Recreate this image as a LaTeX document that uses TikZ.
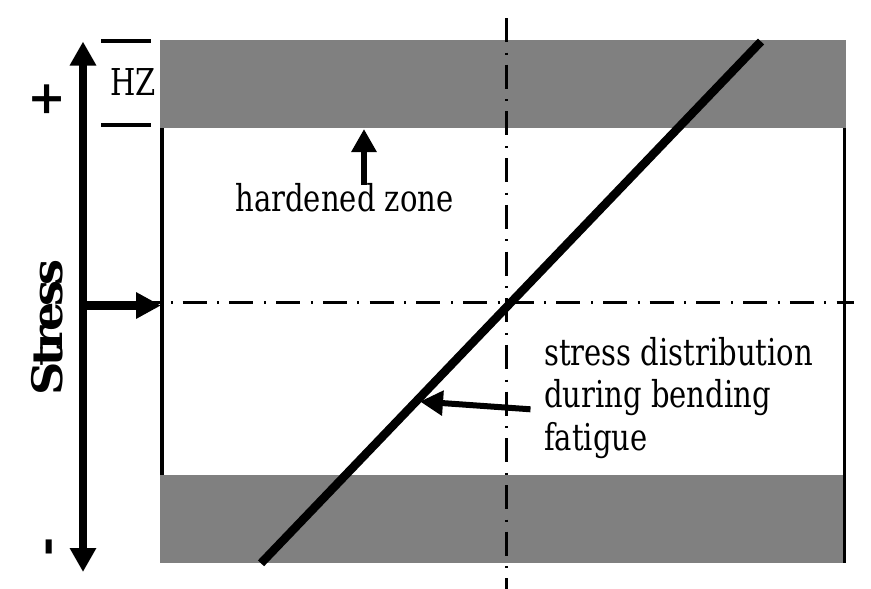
\documentclass[tikz,border=0pt]{standalone}
\usepackage{fontspec}
\setmainfont{DejaVu Serif}
\newfontfamily\condfont[FakeStretch=0.785]{DejaVu Serif}
\newfontfamily\stressfont[FakeStretch=1.1,LetterSpace=-12]{DejaVu Serif Bold}
\newfontfamily\signfont{DejaVu Serif Bold}
\usetikzlibrary{arrows.meta}
\tikzset{
 px/.style={x=1pt,y=-1pt},
 edge/.style={line width=3.6pt},
 centre/.style={line width=2.4pt,dash pattern=on 24pt off 10.6pt on 2pt off 10.1pt},
 bigarrow/.style={line width=8.6pt,-{Triangle[length=25pt,width=25pt]}},
 bigarrows/.style={line width=8.6pt,{Triangle[length=24pt,width=25pt]}-{Triangle[length=24pt,width=25pt]}},
 thinarrow/.style={line width=6pt,-{Triangle[length=23pt,width=24pt]}},
 textlabel/.style={font=\condfont\fontsize{37}{42.6}\selectfont,inner sep=0pt,align=left},
 tick/.style={line width=4pt},
}
\begin{document}
\begin{tikzpicture}[px]
\useasboundingbox (0,0) rectangle (871,589);
\fill[white] (0,0) rectangle (871,589);
\fill[black!50] (160,40) rectangle (846,128);
\fill[black!50] (160,475) rectangle (844,563);
\coordinate (lt) at (162,128); \coordinate (lb) at (162,475);
\coordinate (rt) at (844.7,128); \coordinate (rb) at (844.7,563);
\draw[edge] (lt) -- (lb);
\draw[edge,line width=3pt] (rt) -- (rb);
\coordinate (vt) at (506.5,18); \coordinate (vb) at (506.5,589);
\coordinate (hl) at (136,302.3); \coordinate (hr) at (854,302.3);
\draw[centre] (vt) -- (vb);
\draw[centre] (hl) -- (hr);
\coordinate (s1) at (261,563.3); \coordinate (s2) at (761,41.5);
\draw[line width=8.5pt] (s1) -- (s2);
\coordinate (at) at (83,41.5); \coordinate (ab) at (83,572);
\draw[bigarrows] (at) -- (ab);
\coordinate (a1) at (87,305.5); \coordinate (a2) at (161,305.5);
\draw[bigarrow] (a1) -- (a2);
\coordinate (b1) at (364,185); \coordinate (b2) at (364,129);
\draw[thinarrow] (b1) -- (b2);
\coordinate (c1) at (530.5,409.3); \coordinate (c2) at (420,401.5);
\draw[thinarrow] (c1) -- (c2);
\coordinate (t1a) at (101,41); \coordinate (t1b) at (151,41);
\coordinate (t2a) at (101,125); \coordinate (t2b) at (151,125);
\draw[tick] (t1a) -- (t1b);
\draw[tick] (t2a) -- (t2b);
\node[textlabel] (hz) at (133,82.5) {HZ};
\node[textlabel] (hard) at (344.5,198) {hardened zone};
\node[textlabel,anchor=north west] (sd) at (544,337) {stress distribution\\during bending\\fatigue};
\node[font=\signfont\fontsize{46}{46}\selectfont,inner sep=0pt,rotate=90] (plus) at (47,99) {+};
\node[font=\signfont\fontsize{46}{46}\selectfont,inner sep=0pt,rotate=90] (minus) at (54,547) {-};
\node[font=\stressfont\fontsize{42}{42}\selectfont,inner sep=0pt,rotate=90] (st) at (47,327.5) {Stress};
\end{tikzpicture}
\end{document}
